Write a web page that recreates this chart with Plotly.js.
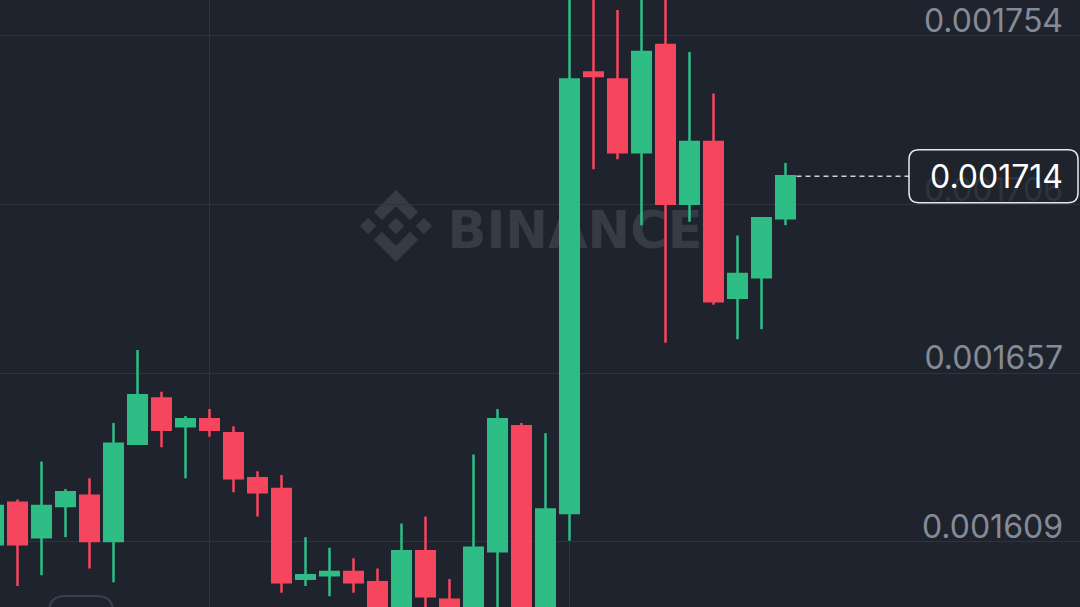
<!DOCTYPE html>
<html>
<head>
<meta charset="utf-8">
<script src="https://cdn.plot.ly/plotly-3.0.1.min.js"></script>
<style>html,body{margin:0;padding:0;background:#1f232d;}#chart{width:1080px;height:607px;}</style>
</head>
<body>
<div id="chart"></div>
<script>
// Candle index (time order)
const candleIndex = [0,1,2,3,4,5,6,7,8,9,10,11,12,13,14,15,16,17,18,19,20,21,22,23,24,25,26,27,28,29,30,31,32,33];
const openPrices  = [0.0016082,0.0016201,0.0016102,0.0016191,0.0016221,0.0016091,0.0016370,0.0016499,0.0016420,0.0016440,0.0016400,0.0016271,0.0016240,0.0015983,0.0015993,0.0016002,0.0015973,0.0015870,0.0016062,0.0015923,0.0015855,0.0016062,0.0016420,0.0015870,0.0016171,0.0017433,0.0017413,0.0017205,0.0017512,0.0017057,0.0017234,0.0016788,0.0016847,0.0017016];
const highPrices  = [0.0016208,0.0016210,0.0016319,0.0016240,0.0016271,0.0016429,0.0016638,0.0016519,0.0016449,0.0016469,0.0016420,0.0016291,0.0016280,0.0016102,0.0016072,0.0016042,0.0016012,0.0016141,0.0016161,0.0015982,0.0016339,0.0016469,0.0016429,0.0016400,0.0017670,0.0017680,0.0017612,0.0017680,0.0017675,0.0017492,0.0017373,0.0016966,0.0017016,0.0017174];
const lowPrices   = [0.0016065,0.0015962,0.0015993,0.0016102,0.0016012,0.0015973,0.0016369,0.0016360,0.0016271,0.0016390,0.0016231,0.0016161,0.0015943,0.0015962,0.0015933,0.0015943,0.0015822,0.0015830,0.0015879,0.0015820,0.0015800,0.0015860,0.0015840,0.0015850,0.0016092,0.0017156,0.0017185,0.0016996,0.0016659,0.0017006,0.0016768,0.0016669,0.0016698,0.0016996];
const closePrices = [0.0016191,0.0016082,0.0016191,0.0016231,0.0016091,0.0016370,0.0016509,0.0016410,0.0016440,0.0016410,0.0016271,0.0016231,0.0015973,0.0015993,0.0016002,0.0015973,0.0015865,0.0016062,0.0015933,0.0015855,0.0016072,0.0016440,0.0015860,0.0016181,0.0017413,0.0017423,0.0017205,0.0017492,0.0017057,0.0017234,0.0016778,0.0016856,0.0017016,0.0017136];
const priceTickVals = [0.0017538,0.0017055,0.0016572,0.0016089];
const priceTickText = ['0.001754','0.001706','0.001657','0.001609'];
const timeGridVals = [9,24];

const BG = '#1f232d';
const GREEN = '#2ebd85';
const RED = '#f6465d';
const GRID = '#2e333e';
const WM = '#363b46';

const lastIdx = candleIndex[candleIndex.length-1];
const lastClose = closePrices[closePrices.length-1];

const trace = {
  type: 'candlestick',
  x: candleIndex, open: openPrices, high: highPrices, low: lowPrices, close: closePrices,
  increasing: {line: {color: GREEN, width: 2.5}, fillcolor: GREEN},
  decreasing: {line: {color: RED, width: 2.5}, fillcolor: RED},
  whiskerwidth: 0,
  hoverinfo: 'skip',
  showlegend: false
};

// Binance logo pieces (pixel offsets from logo centre)
function poly(pts){ return 'M' + pts.map(p=>p[0]+','+p[1]).join(' L') + ' Z'; }
const topChevron = [[-13.98,5.75],[0,19.72],[13.98,5.74],[22.12,13.87],[0,36],[-22.11,13.88]];
const botChevron = topChevron.map(p=>[p[0],-p[1]]);
const leftDiamond = [[-36,0],[-27.87,8.13],[-19.74,0],[-27.87,-8.13]];
const rightDiamond = leftDiamond.map(p=>[-p[0],p[1]]);
const centerDiamond = [[0,8.25],[8.25,0],[0,-8.25],[-8.25,0]];
const logoShapes = [topChevron,botChevron,leftDiamond,rightDiamond,centerDiamond].map(pts=>({
  type:'path', layer:'below', xref:'paper', yref:'paper',
  xsizemode:'pixel', ysizemode:'pixel', xanchor: 396/1080, yanchor: (607-226)/607,
  path: poly(pts), fillcolor: WM, line:{width:0}
}));

const boxPath = 'M -161,26.5 L -12,26.5 Q -2,26.5 -2,16.5 L -2,-16.5 Q -2,-26.5 -12,-26.5 L -161,-26.5 Q -171,-26.5 -171,-16.5 L -171,16.5 Q -171,26.5 -161,26.5 Z';

function px(x){return x/1080;} function py(y){return (607-y)/607;}
const pillPath = 'M '+px(65)+','+py(596)+' L '+px(97)+','+py(596)+' Q '+px(113)+','+py(596)+' '+px(113)+','+py(612)+
  ' L '+px(113)+','+py(630)+' L '+px(49)+','+py(630)+' L '+px(49)+','+py(612)+' Q '+px(49)+','+py(596)+' '+px(65)+','+py(596)+' Z';

const layout = {
  width: 1080, height: 607,
  margin: {l:0, r:0, t:0, b:0, pad:0},
  paper_bgcolor: BG, plot_bgcolor: BG,
  boxgap: 0.23, boxgroupgap: 0,
  showlegend: false,
  hovermode: false,
  xaxis: {
    range: [0.2708, 45.2708], tickvals: timeGridVals, showticklabels: false, ticks: '',
    showgrid: true, gridcolor: GRID, gridwidth: 1, zeroline: false, showline: false,
    rangeslider: {visible: false}, fixedrange: true
  },
  yaxis: {
    side: 'right', range: [0.0015902, 0.0017641],
    tickvals: priceTickVals, ticktext: priceTickText,
    ticklabelposition: 'inside', ticks: '', ticklabelstandoff: 14, ticklabelshift: -15,
    tickfont: {family: 'Inter, Roboto, sans-serif', size: 32, color: '#848b96'},
    showgrid: true, gridcolor: GRID, gridwidth: 1, zeroline: false, showline: false, fixedrange: true
  },
  shapes: [
    {type:'rect', layer:'below', xref:'paper', yref:'paper', x0: px(440), x1: px(710), y0: py(252), y1: py(200),
     line:{width:0}, fillcolor:'rgba(0,0,0,0)',
     label:{text:'BINANCE', textposition:'middle center', font:{family:'DejaVu Sans, sans-serif', size:51, weight:700, color:WM}}},
    ...logoShapes,
    {type:'line', layer:'above', xref:'x', yref:'y', xsizemode:'pixel', xanchor:lastIdx, x0:11, x1:124,
     y0:lastClose, y1:lastClose, line:{color:'#d0d2d6', width:1.5, dash:'5px,4px'}},
    {type:'path', layer:'above', xref:'paper', yref:'y', xsizemode:'pixel', ysizemode:'pixel',
     xanchor:1, yanchor:lastClose, path: boxPath, fillcolor:'rgba(31,35,45,0.85)', line:{color:'#e8e9eb', width:1.5}},
    {type:'path', layer:'above', xref:'paper', yref:'paper', path: pillPath, fillcolor:'rgba(0,0,0,0)', line:{color:'#3a3f4b', width:2}}
  ],
  annotations: [
    {xref:'paper', yref:'y', x:1, y:lastClose, xanchor:'right', yanchor:'middle', xshift:-15, showarrow:false,
     text: lastClose.toFixed(6), font:{family:'Inter, Roboto, sans-serif', size:32, color:'#ffffff'}}
  ]
};

Plotly.newPlot('chart', [trace], layout, {displayModeBar:false, staticPlot:true});
</script>
</body>
</html>
